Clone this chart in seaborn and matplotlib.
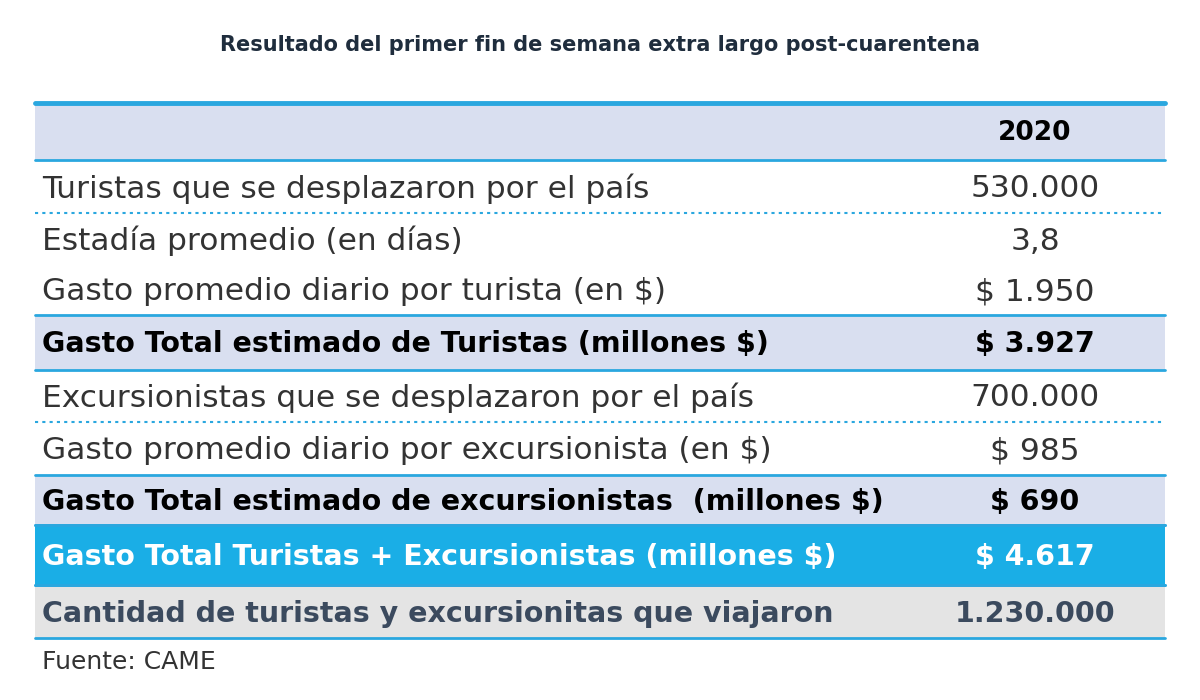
import matplotlib
matplotlib.use("Agg")
import matplotlib.pyplot as plt
import seaborn as sns

sns.set_theme(style="white")

title = "Resultado del primer fin de semana extra largo post-cuarentena"
year_label = "2020"
row_labels = [
    "Turistas que se desplazaron por el país",
    "Estadía promedio (en días)",
    "Gasto promedio diario por turista (en $)",
    "Gasto Total estimado de Turistas (millones $)",
    "Excursionistas que se desplazaron por el país",
    "Gasto promedio diario por excursionista (en $)",
    "Gasto Total estimado de excursionistas  (millones $)",
    "Gasto Total Turistas + Excursionistas (millones $)",
    "Cantidad de turistas y excursionitas que viajaron",
]
row_values = ["530.000", "3,8", "$ 1.950", "$ 3.927", "700.000", "$ 985", "$ 690", "$ 4.617", "1.230.000"]
row_kind = ["plain", "plain", "plain", "sub", "plain", "plain", "sub", "total", "count"]
source = "Fuente: CAME"

# row boundaries in pixels (top, bottom)
edges = [103, 160, 213, 265, 315, 370, 422, 475, 525, 585, 638]
dotted_after = [0, 4]
blue = "#2aa7df"

fig = plt.figure(figsize=(12, 7), dpi=100)
ax = fig.add_axes([0, 0, 1, 1])
ax.set_xlim(0, 1200)
ax.set_ylim(700, 0)
ax.axis("off")

ax.text(600, 45, title, ha="center", va="center", fontsize=15, fontweight="bold", color="#1f2d3d")

x0, x1, xv = 35, 1165, 1035
ax.fill_between([x0, x1], edges[0], edges[1], color="#d9dff0", lw=0)
ax.text(xv, (edges[0] + edges[1]) / 2 + 2, year_label, ha="center", va="center",
        fontsize=19, fontweight="bold", color="black")
ax.plot([x0, x1], [edges[0], edges[0]], color=blue, lw=3.5)
ax.plot([x0, x1], [edges[1], edges[1]], color=blue, lw=2)

styles = {
    "plain": (None, "#333333", "normal", 22.5),
    "sub": ("#d9dff0", "black", "bold", 20.5),
    "total": ("#1aaee6", "white", "bold", 20.5),
    "count": ("#e4e4e4", "#3b4a5e", "bold", 20.5),
}
for i, (lab, val, kind) in enumerate(zip(row_labels, row_values, row_kind)):
    top, bot = edges[i + 1], edges[i + 2]
    bg, fc, fw, fs = styles[kind]
    if bg:
        ax.fill_between([x0, x1], top, bot, color=bg, lw=0)
    yc = (top + bot) / 2 + 2
    ax.text(42, yc, lab, ha="left", va="center", fontsize=fs, fontweight=fw, color=fc)
    ax.text(xv, yc, val, ha="center", va="center", fontsize=fs, fontweight=fw, color=fc)
    if kind != "plain":
        ax.plot([x0, x1], [top, top], color=blue, lw=2)
        ax.plot([x0, x1], [bot, bot], color=blue, lw=2)
    elif i in dotted_after:
        ax.plot([x0, x1], [bot, bot], color=blue, lw=1.5, ls=(0, (1.5, 2)))

ax.text(42, 662, source, ha="left", va="center", fontsize=18, color="#333333")

fig.savefig("out.png", dpi=100)
